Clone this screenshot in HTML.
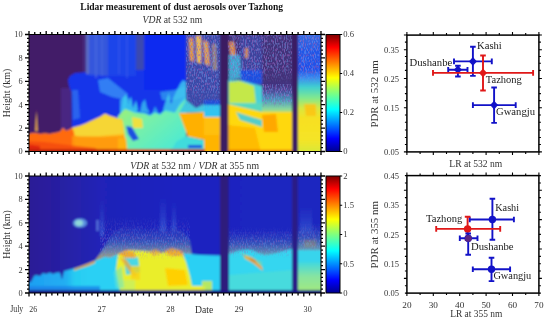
<!DOCTYPE html><html><head><meta charset="utf-8"><style>html,body{margin:0;padding:0;background:#fff;width:550px;height:322px;overflow:hidden}svg{display:block}</style></head><body>
<svg width="550" height="322" viewBox="0 0 550 322">
<defs>
<linearGradient id="jet" x1="0" y1="1" x2="0" y2="0"><stop offset="0" stop-color="#00008f"/><stop offset="0.11" stop-color="#0000ff"/><stop offset="0.36" stop-color="#00ffff"/><stop offset="0.5" stop-color="#7fff7f"/><stop offset="0.63" stop-color="#ffff00"/><stop offset="0.89" stop-color="#ff0000"/><stop offset="1" stop-color="#7f0000"/></linearGradient>
<filter id="bl" x="-5%" y="-5%" width="110%" height="110%"><feGaussianBlur stdDeviation="1.2"/></filter>
<filter id="nzl" x="0" y="0" width="100%" height="100%"><feTurbulence type="fractalNoise" baseFrequency="1.1 0.35" numOctaves="1" seed="4"/><feColorMatrix type="matrix" values="0 0 0 0 0.2  0 0 0 0 0.4  0 0 0 0 0.95  6 0 0 0 -2.9"/></filter>
<filter id="nzd" x="0" y="0" width="100%" height="100%"><feTurbulence type="fractalNoise" baseFrequency="1.1 0.35" numOctaves="1" seed="11"/><feColorMatrix type="matrix" values="0 0 0 0 0.3  0 0 0 0 0.1  0 0 0 0 0.45  -6 0 0 0 2.9"/></filter>
<linearGradient id="fade1" x1="0" y1="0" x2="0" y2="1"><stop offset="0" stop-color="#fff"/><stop offset="0.7" stop-color="#fff"/><stop offset="1" stop-color="#000"/></linearGradient>
<linearGradient id="fade2" x1="0" y1="0" x2="0" y2="1"><stop offset="0" stop-color="#000"/><stop offset="0.55" stop-color="#aaa"/><stop offset="0.8" stop-color="#888"/><stop offset="1" stop-color="#000"/></linearGradient>
<mask id="m1" maskUnits="userSpaceOnUse" x="0" y="0" width="550" height="322"><rect x="186" y="34" width="34" height="76" fill="url(#fade1)"/><rect x="228" y="34" width="64" height="50" fill="url(#fade1)"/><rect x="262" y="84" width="30" height="24" fill="url(#fade1)"/><rect x="298" y="34" width="23" height="50" fill="url(#fade1)"/><rect x="100" y="216" width="90" height="44" fill="url(#fade2)"/><rect x="229" y="226" width="63" height="32" fill="url(#fade2)"/><rect x="298" y="222" width="23" height="30" fill="url(#fade2)"/></mask>
<clipPath id="ct"><rect x="29" y="34.5" width="292" height="117.0"/></clipPath>
<clipPath id="cb"><rect x="29" y="176" width="292" height="117"/></clipPath>
</defs>
<g clip-path="url(#ct)"><g filter="url(#bl)"><defs><linearGradient id="lg1" x1="0" y1="0" x2="1" y2="1"><stop offset="0" stop-color="#a8f068"/><stop offset="0.4" stop-color="#78f0a8"/><stop offset="1" stop-color="#40e8e0"/></linearGradient></defs>
<rect x="25" y="30" width="300" height="126" fill="#421b68"/>
<rect x="83" y="30" width="4" height="44" fill="#4a3a98" opacity="0.5"/>
<rect x="61" y="88" width="10" height="42" fill="#4a2a88" opacity="0.8"/>
<path d="M86,30 L186,30 L186,156 L72,156 L71.5,92 L69,86 L68,80 L70,76 L75,73 L82,72.5 L86,72 Z" fill="#1234ea"/>
<path d="M87,30 L136,30 L136,76 L87,76 Z" fill="#1e44ea"/>
<path d="M86,30 L108,30 L108,76 L86,74 Z" fill="#3456dc"/>
<rect x="86" y="30" width="3" height="44" fill="#5a6ac4"/>
<rect x="95" y="30" width="2" height="48" fill="#4a6ae0" opacity="0.7"/>
<rect x="101" y="30" width="2" height="46" fill="#4a6ae0" opacity="0.6"/>
<rect x="118" y="30" width="2" height="44" fill="#3a5ae8" opacity="0.6"/>
<rect x="126" y="30" width="2" height="48" fill="#3a5ae8" opacity="0.6"/>
<rect x="136" y="30" width="8" height="40" fill="#3b48b0"/>
<path d="M144,30 L186,30 L186,90 L144,90 Z" fill="#0c2af0"/>
<path d="M98,80 L108,78 L118,86 L128,94 L126,100 L112,97 L100,92 Z" fill="#3a8cf6" opacity="0.85"/>
<path d="M72,90 L78,90 L80,118 L73,120 Z" fill="#3378f0" opacity="0.7"/>
<path d="M160,92 L175,90 L186,86 L186,96 L175,100 L162,100 Z" fill="#36a0f0" opacity="0.75"/>
<path d="M186,30 L220,30 L220,104 L204,104 L196,108 L186,100 Z" fill="#3a48a8"/>
<rect x="228" y="30" width="64" height="66" fill="#42307a"/>
<path d="M240,36 L262,36 L262,85 L240,85 Z" fill="#3c4aa8" opacity="0.75"/>
<defs><linearGradient id="r2" x1="0" y1="80" x2="0" y2="116" gradientUnits="userSpaceOnUse"><stop offset="0" stop-color="#44307c" stop-opacity="0"/><stop offset="0.3" stop-color="#4a4a98"/><stop offset="0.55" stop-color="#4a98b8"/><stop offset="0.8" stop-color="#88d8a0"/><stop offset="1" stop-color="#e8e030"/></linearGradient></defs>
<rect x="262" y="80" width="30" height="36" fill="url(#r2)"/>
<path d="M189,38 L193,38 L194,62 L190,60 Z" fill="#f0a030"/>
<path d="M196,36 L201,36 L201,64 L197,62 Z" fill="#f8c040"/>
<path d="M203,40 L208,42 L210,66 L205,64 Z" fill="#e8a048"/>
<path d="M212,44 L216,44 L217,70 L213,70 Z" fill="#b89a70" opacity="0.8"/>
<path d="M229,42 L234,42 L236,58 L231,60 Z" fill="#e89040"/>
<path d="M229,55 L240,55 L241,78 L229,80 Z" fill="#40a8d0"/>
<path d="M245,48 L248,48 L248,58 L245,58 Z" fill="#d89050"/>
<path d="M240,70 L262,70 L262,84 L242,84 Z" fill="#1e50e0"/>
<path d="M186,96 L180,103 L175,111.8 L170,110.7 L165,109.6 L160,114 L155,111.8 L150,115 L145,112.9 L135,111.8 L125,107.5 L120,114 L120,118 L125,111 L135,115 L145,116 L150,118 L155,115 L160,117 L165,113 L170,114 L175,115 L180,107 L186,101 Z" fill="#38d8e0"/>
<path d="M120,100 L126,95 L130,100 L125,108 L120,114 Z" fill="#38b0f0" opacity="0.8"/>
<rect x="204" y="104" width="16" height="13" fill="#30c4f0"/>
<path d="M121,112 L123,98 L126,94 L128,104 L131,96 L133,108 L136,100 L138,110 L135,114 L125,112 Z" fill="#38c8f0" opacity="0.9"/>
<path d="M140,112 L142,103 L145,99 L147,108 L150,113 Z" fill="#38c0f0" opacity="0.8"/>
<path d="M163,110 L166,100 L169,93 L171,104 L174,96 L177,90 L180,84 L183,80 L186,82 L186,100 L176,112 Z" fill="#40c8ee" opacity="0.85"/>
<path d="M152,114 L155,106 L158,112 Z" fill="#38c0f0" opacity="0.7"/>
<rect x="204" y="100" width="16" height="5" fill="#2050d8"/>
<path d="M228,80 L240,80 L262,86 L262,104 L228,104 Z" fill="#48d0d8"/>
<path d="M229,82 L240,81 L254,86 L256,104 L229,104 Z" fill="#c4e848"/>
<path d="M228,103 L262,103 L262,112 L228,110 Z" fill="#58d8c0"/>
<path d="M118,116 L125,109 L135,113 L145,114 L150,116 L155,113 L160,115 L165,111 L170,112 L175,113 L180,105 L186,99 L186,156 L118,156 Z" fill="url(#lg1)"/>
<path d="M25,136 L31,133.5 L35,133 L40,134 L45,133.5 L50,134 L55,133 L60,132 L63,128 L66,131 L69,130 L72,128 L75,127 L80,125.8 L86,123.5 L90,121.5 L95,119.3 L100,117 L105,113.8 L110,116 L115,117.6 L120,119.3 L122,119 L124,130 L128,156 L25,156 Z" fill="#ffb818"/>
<path d="M72,128 L75,127 L80,125.8 L86,123.5 L90,121.5 L95,119.3 L100,117 L105,113.8 L110,116 L115,117.6 L120,119.3 L123,122 L124,134 L100,136 L80,137 L72,134 Z" fill="#f6d634"/>
<path d="M25,136 L31,133.5 L35,133 L40,134 L45,133.5 L50,134 L55,133 L60,132 L63,128 L66,131 L69,130 L72,128 L74,132 L76,156 L25,156 Z" fill="#ff6a0c"/>
<path d="M72,136 L100,137 L124,136 L128,156 L72,156 Z" fill="#ff9810" opacity="0.9"/>
<path d="M25,141 L45,142 L60,144 L76,146 L95,148 L110,156 L25,156 Z" fill="#f44a0c" opacity="0.85"/>
<path d="M25,144 L40,146 L40,156 L25,156 Z" fill="#e02810"/>
<path d="M35.3,131 L36.3,110 L37.6,131 Z" fill="#f0b040"/>
<path d="M126,126 L132,127 L139,139 L133,141 L128,134 Z" fill="#1e50e0"/>
<path d="M132,117 L142,119 L143,128 L133,128 Z" fill="#eee040"/>
<path d="M118,138 L126,138 L128,156 L118,156 Z" fill="#ffb010"/>
<path d="M179,113 L204,112 L204,140 L188,137 Z" fill="#ffb000"/>
<path d="M186,100 L196,108 L204,104 L204,112 L179,113 Z" fill="#40c8e0"/>
<path d="M186,136 L204,140 L204,150 L172,150 L176,142 Z" fill="#40dcdc"/>
<rect x="188" y="145" width="14" height="3" fill="#2048e0"/>
<rect x="204" y="117" width="16" height="39" fill="#ffc010"/>
<rect x="204" y="135" width="16" height="21" fill="#ffb000" opacity="0.8"/>
<path d="M228,104 L262,112 L292,112 L292,156 L228,156 Z" fill="#ffd810"/>
<path d="M236,112 L262,120 L262,127 L240,120 Z" fill="#40cce0" opacity="0.9"/>
<path d="M262,115 L276,114 L278,132 L264,132 Z" fill="#ffa800"/>
<path d="M228,125 L255,128 L262,156 L228,156 Z" fill="#ffbc00"/>
<defs><linearGradient id="rc" x1="0" y1="34" x2="0" y2="152" gradientUnits="userSpaceOnUse"><stop offset="0" stop-color="#3a6ce0"/><stop offset="0.14" stop-color="#2458e6"/><stop offset="0.3" stop-color="#2050e8"/><stop offset="0.37" stop-color="#3a8cf0"/><stop offset="0.45" stop-color="#40d0d0"/><stop offset="0.54" stop-color="#80e890"/><stop offset="0.63" stop-color="#d8e840"/><stop offset="0.72" stop-color="#f8e020"/><stop offset="0.9" stop-color="#f4e428"/><stop offset="1" stop-color="#d8e838"/></linearGradient></defs>
<rect x="298" y="30" width="27" height="126" fill="url(#rc)"/>
<path d="M304,104 L316,104 L316,116 L306,116 Z" fill="#ffc010" opacity="0.8"/>
<rect x="220" y="30" width="8.300000000000011" height="126" fill="#3a1a62"/>
<rect x="292" y="30" width="5.800000000000011" height="126" fill="#3a1a62"/>
<rect x="25" y="149.3" width="180" height="6.699999999999989" fill="#b82010"/>
<rect x="110" y="149.6" width="60" height="6.400000000000006" fill="#d04010"/>
<rect x="228" y="149.8" width="64" height="6.199999999999989" fill="#e07010" opacity="0.8"/></g></g>
<g clip-path="url(#cb)"><g filter="url(#bl)"><defs><linearGradient id="tz" x1="0" y1="0" x2="0" y2="1"><stop offset="0" stop-color="#2a40c0" stop-opacity="0"/><stop offset="0.5" stop-color="#3a58b8"/><stop offset="0.78" stop-color="#7a90a0"/><stop offset="1" stop-color="#d89838"/></linearGradient><linearGradient id="tz2" x1="0" y1="0" x2="0" y2="1"><stop offset="0" stop-color="#2a40c0" stop-opacity="0"/><stop offset="0.55" stop-color="#3a58b8"/><stop offset="1" stop-color="#70a8b0"/></linearGradient></defs>
<defs><linearGradient id="bg2" x1="29" y1="0" x2="321" y2="0" gradientUnits="userSpaceOnUse"><stop offset="0" stop-color="#2a1e96"/><stop offset="0.12" stop-color="#2820a4"/><stop offset="0.25" stop-color="#2024b8"/><stop offset="0.5" stop-color="#1c22c0"/><stop offset="1" stop-color="#1e28c0"/></linearGradient></defs>
<rect x="25" y="171" width="300" height="126" fill="url(#bg2)"/>
<ellipse cx="80" cy="223" rx="7" ry="4.6" fill="#5a90e0"/>
<ellipse cx="79" cy="223" rx="4" ry="3" fill="#90d8d8"/>
<rect x="96.5" y="220" width="2.0" height="11" fill="#6a90e8" opacity="0.8"/>
<defs><linearGradient id="vs" x1="0" y1="0" x2="0" y2="1"><stop offset="0" stop-color="#3050d0" stop-opacity="0"/><stop offset="1" stop-color="#3a60d8" stop-opacity="0.7"/></linearGradient></defs>
<path d="M100,200 L104,200 L104,236 L100,236 Z" fill="url(#vs)"/>
<path d="M160,196 L166,196 L166,232 L160,232 Z" fill="url(#vs)"/>
<path d="M172,200 L176,200 L176,232 L172,232 Z" fill="url(#vs)"/>
<path d="M300,206 L312,206 L312,234 L300,234 Z" fill="url(#vs)"/>
<path d="M94,262 L104,248 L112,234 L122,226 L135,224 L145,230 L155,228 L170,226 L182,230 L190,240 L192,256 L100,262 Z" fill="url(#tz)"/>
<path d="M25,283 L31,282 L34,276 L36,275 L40,276 L43,273 L46,274 L50,272.5 L53,274 L57,272.4 L60,272.4 L62,279.4 L64,271 L65,270.7 L70,269.6 L72,269 L80,266.5 L88,263.6 L90,262.5 L100,258.7 L105,256.5 L110,257.6 L115,255.4 L120,253.3 L128,251 L144,252 L160,254 L175,252 L182,253 L200,255 L220,255.4 L220,297 L25,297 Z" fill="url(#cyl)"/>
<defs><linearGradient id="cyl" x1="29" y1="0" x2="90" y2="0" gradientUnits="userSpaceOnUse"><stop offset="0" stop-color="#1ea0f2"/><stop offset="0.6" stop-color="#22aef2"/><stop offset="0.75" stop-color="#26ccf2"/><stop offset="1" stop-color="#2cd0f4"/></linearGradient></defs>
<path d="M25,286 L100,286 L100,291 L25,291 Z" fill="#1a7ce8" opacity="0.7"/>
<path d="M74,268.8 L80,266.5 L88,263.6 L95,260.6 L95,263 L88,266 L80,268.5 L74,270.8 Z" fill="#f0a030" opacity="0.9"/>
<path d="M118,254 L128,250 L144,251 L160,253 L175,251 L182,252 L186,262 L190,276 L192,286 L205,286 L205,291 L120,291 L116,270 Z" fill="#eaee2a"/>
<path d="M124,258 L138,257 L140,272 L126,275 Z" fill="#48d8e4"/>
<path d="M118,254 L126,250 L134,252 L136,258 L126,258 Z" fill="#f0a030" opacity="0.85"/>
<path d="M120,258 L126,259 L138,276 L133,277 Z" fill="#f0a838" opacity="0.8"/>
<path d="M148,252 L156,249 L162,253 L154,256 Z" fill="#f0b038" opacity="0.7"/>
<path d="M164,251 L172,248 L182,251 L184,256 L170,256 Z" fill="#f0a030" opacity="0.8"/>
<path d="M131,266 L140,266 L140,280 L131,280 Z" fill="#f8d418" opacity="0.8"/>
<path d="M165,268 L185,270 L188,285 L168,286 Z" fill="#ffd000"/>
<path d="M120,280 L135,280 L135,291 L120,291 Z" fill="#c8f060" opacity="0.8"/>
<path d="M114,272 L122,266 L124,288 L116,288 Z" fill="#70e8c0" opacity="0.6"/>
<path d="M202,281 L212,281 L212,291 L202,291 Z" fill="#d8ec40" opacity="0.8"/>
<path d="M229,230 L292,230 L292,251 L280,254 L265,257 L250,252 L229,256 Z" fill="url(#tz2)"/>
<path d="M229,254 L235,252 L240,250.5 L250,249.5 L258,253 L265,255 L272,254 L280,252 L292,249 L292,297 L229,297 Z" fill="#34d6f0"/>
<path d="M229,275 L292,270 L292,291 L229,291 Z" fill="#4cdcd8" opacity="0.8"/>
<path d="M244,255 L252,257.5 L262,267 L263,271 L253,263 L245,258.5 Z" fill="#f0a030"/>
<path d="M249,257.5 L255,259.5 L257,263 L251,261 Z" fill="#e06a20"/>
<path d="M240,252 L262,262 L262,266 L245,259 Z" fill="#c8d060" opacity="0.35"/>
<path d="M298,224 L325,224 L325,252 L298,252 Z" fill="url(#tz2)"/>
<path d="M304,240 L316,240 L316,247 L304,247 Z" fill="#c8a040" opacity="0.3"/>
<rect x="298" y="250" width="27" height="18" fill="#38d4ec"/>
<defs><linearGradient id="fr" x1="0" y1="0" x2="0" y2="1"><stop offset="0" stop-color="#40d8e0"/><stop offset="0.5" stop-color="#88e4a0"/><stop offset="1" stop-color="#a0e880"/></linearGradient></defs>
<rect x="298" y="262" width="27" height="29" fill="url(#fr)"/>
<rect x="220" y="171" width="8.699999999999989" height="126" fill="#2e1c7c"/>
<rect x="292" y="171" width="5.800000000000011" height="126" fill="#2a1a86"/>
<rect x="25" y="290.2" width="300" height="6.800000000000011" fill="#161680"/></g></g>
<g mask="url(#m1)"><rect x="29" y="34" width="292" height="260" filter="url(#nzl)" opacity="0.4"/><rect x="29" y="34" width="292" height="260" filter="url(#nzd)" opacity="0.5"/></g>
<rect x="29" y="34.5" width="292" height="117.0" fill="none" stroke="#000" stroke-width="1"/>
<path d="M25,151.50H29M321,151.50H325M27,147.60H29M321,147.60H323M27,143.70H29M321,143.70H323M27,139.80H29M321,139.80H323M27,135.90H29M321,135.90H323M27,132.00H29M321,132.00H323M25,128.10H29M321,128.10H325M27,124.20H29M321,124.20H323M27,120.30H29M321,120.30H323M27,116.40H29M321,116.40H323M27,112.50H29M321,112.50H323M27,108.60H29M321,108.60H323M25,104.70H29M321,104.70H325M27,100.80H29M321,100.80H323M27,96.90H29M321,96.90H323M27,93.00H29M321,93.00H323M27,89.10H29M321,89.10H323M27,85.20H29M321,85.20H323M25,81.30H29M321,81.30H325M27,77.40H29M321,77.40H323M27,73.50H29M321,73.50H323M27,69.60H29M321,69.60H323M27,65.70H29M321,65.70H323M27,61.80H29M321,61.80H323M25,57.90H29M321,57.90H325M27,54.00H29M321,54.00H323M27,50.10H29M321,50.10H323M27,46.20H29M321,46.20H323M27,42.30H29M321,42.30H323M27,38.40H29M321,38.40H323M25,34.50H29M321,34.50H325M29.00,30.9V34.5M29.00,151.5V155.1M34.73,31.9V34.5M34.73,151.5V154.1M40.45,31.9V34.5M40.45,151.5V154.1M46.18,30.9V34.5M46.18,151.5V155.1M51.90,31.9V34.5M51.90,151.5V154.1M57.63,31.9V34.5M57.63,151.5V154.1M63.35,30.9V34.5M63.35,151.5V155.1M69.08,31.9V34.5M69.08,151.5V154.1M74.80,31.9V34.5M74.80,151.5V154.1M80.52,30.9V34.5M80.52,151.5V155.1M86.25,31.9V34.5M86.25,151.5V154.1M91.97,31.9V34.5M91.97,151.5V154.1M97.70,30.9V34.5M97.70,151.5V155.1M103.42,31.9V34.5M103.42,151.5V154.1M109.15,31.9V34.5M109.15,151.5V154.1M114.87,30.9V34.5M114.87,151.5V155.1M120.60,31.9V34.5M120.60,151.5V154.1M126.32,31.9V34.5M126.32,151.5V154.1M132.05,30.9V34.5M132.05,151.5V155.1M137.77,31.9V34.5M137.77,151.5V154.1M143.50,31.9V34.5M143.50,151.5V154.1M149.22,30.9V34.5M149.22,151.5V155.1M154.95,31.9V34.5M154.95,151.5V154.1M160.67,31.9V34.5M160.67,151.5V154.1M166.40,30.9V34.5M166.40,151.5V155.1M172.12,31.9V34.5M172.12,151.5V154.1M177.85,31.9V34.5M177.85,151.5V154.1M183.57,30.9V34.5M183.57,151.5V155.1M189.30,31.9V34.5M189.30,151.5V154.1M195.02,31.9V34.5M195.02,151.5V154.1M200.75,30.9V34.5M200.75,151.5V155.1M206.47,31.9V34.5M206.47,151.5V154.1M212.20,31.9V34.5M212.20,151.5V154.1M217.92,30.9V34.5M217.92,151.5V155.1M223.65,31.9V34.5M223.65,151.5V154.1M229.37,31.9V34.5M229.37,151.5V154.1M235.10,30.9V34.5M235.10,151.5V155.1M240.82,31.9V34.5M240.82,151.5V154.1M246.55,31.9V34.5M246.55,151.5V154.1M252.27,30.9V34.5M252.27,151.5V155.1M258.00,31.9V34.5M258.00,151.5V154.1M263.72,31.9V34.5M263.72,151.5V154.1M269.45,30.9V34.5M269.45,151.5V155.1M275.17,31.9V34.5M275.17,151.5V154.1M280.90,31.9V34.5M280.90,151.5V154.1M286.62,30.9V34.5M286.62,151.5V155.1M292.35,31.9V34.5M292.35,151.5V154.1M298.07,31.9V34.5M298.07,151.5V154.1M303.80,30.9V34.5M303.80,151.5V155.1M309.53,31.9V34.5M309.53,151.5V154.1M315.25,31.9V34.5M315.25,151.5V154.1M320.98,30.9V34.5M320.98,151.5V155.1" stroke="#000" stroke-width="1.3" fill="none"/>
<rect x="326" y="34.5" width="14" height="117.0" fill="url(#jet)" stroke="#000" stroke-width="1"/>
<rect x="29" y="176" width="292" height="117" fill="none" stroke="#000" stroke-width="1"/>
<path d="M25,293.00H29M321,293.00H325M27,289.10H29M321,289.10H323M27,285.20H29M321,285.20H323M27,281.30H29M321,281.30H323M27,277.40H29M321,277.40H323M27,273.50H29M321,273.50H323M25,269.60H29M321,269.60H325M27,265.70H29M321,265.70H323M27,261.80H29M321,261.80H323M27,257.90H29M321,257.90H323M27,254.00H29M321,254.00H323M27,250.10H29M321,250.10H323M25,246.20H29M321,246.20H325M27,242.30H29M321,242.30H323M27,238.40H29M321,238.40H323M27,234.50H29M321,234.50H323M27,230.60H29M321,230.60H323M27,226.70H29M321,226.70H323M25,222.80H29M321,222.80H325M27,218.90H29M321,218.90H323M27,215.00H29M321,215.00H323M27,211.10H29M321,211.10H323M27,207.20H29M321,207.20H323M27,203.30H29M321,203.30H323M25,199.40H29M321,199.40H325M27,195.50H29M321,195.50H323M27,191.60H29M321,191.60H323M27,187.70H29M321,187.70H323M27,183.80H29M321,183.80H323M27,179.90H29M321,179.90H323M25,176.00H29M321,176.00H325M29.00,172.4V176M29.00,293V296.6M34.73,173.4V176M34.73,293V295.6M40.45,173.4V176M40.45,293V295.6M46.18,172.4V176M46.18,293V296.6M51.90,173.4V176M51.90,293V295.6M57.63,173.4V176M57.63,293V295.6M63.35,172.4V176M63.35,293V296.6M69.08,173.4V176M69.08,293V295.6M74.80,173.4V176M74.80,293V295.6M80.52,172.4V176M80.52,293V296.6M86.25,173.4V176M86.25,293V295.6M91.97,173.4V176M91.97,293V295.6M97.70,172.4V176M97.70,293V296.6M103.42,173.4V176M103.42,293V295.6M109.15,173.4V176M109.15,293V295.6M114.87,172.4V176M114.87,293V296.6M120.60,173.4V176M120.60,293V295.6M126.32,173.4V176M126.32,293V295.6M132.05,172.4V176M132.05,293V296.6M137.77,173.4V176M137.77,293V295.6M143.50,173.4V176M143.50,293V295.6M149.22,172.4V176M149.22,293V296.6M154.95,173.4V176M154.95,293V295.6M160.67,173.4V176M160.67,293V295.6M166.40,172.4V176M166.40,293V296.6M172.12,173.4V176M172.12,293V295.6M177.85,173.4V176M177.85,293V295.6M183.57,172.4V176M183.57,293V296.6M189.30,173.4V176M189.30,293V295.6M195.02,173.4V176M195.02,293V295.6M200.75,172.4V176M200.75,293V296.6M206.47,173.4V176M206.47,293V295.6M212.20,173.4V176M212.20,293V295.6M217.92,172.4V176M217.92,293V296.6M223.65,173.4V176M223.65,293V295.6M229.37,173.4V176M229.37,293V295.6M235.10,172.4V176M235.10,293V296.6M240.82,173.4V176M240.82,293V295.6M246.55,173.4V176M246.55,293V295.6M252.27,172.4V176M252.27,293V296.6M258.00,173.4V176M258.00,293V295.6M263.72,173.4V176M263.72,293V295.6M269.45,172.4V176M269.45,293V296.6M275.17,173.4V176M275.17,293V295.6M280.90,173.4V176M280.90,293V295.6M286.62,172.4V176M286.62,293V296.6M292.35,173.4V176M292.35,293V295.6M298.07,173.4V176M298.07,293V295.6M303.80,172.4V176M303.80,293V296.6M309.53,173.4V176M309.53,293V295.6M315.25,173.4V176M315.25,293V295.6M320.98,172.4V176M320.98,293V296.6" stroke="#000" stroke-width="1.3" fill="none"/>
<rect x="326" y="176" width="14" height="117" fill="url(#jet)" stroke="#000" stroke-width="1"/>
<path d="M340,151.50h2.2" stroke="#000"/>
<text x="343.3" y="154.40" font-size="8.6" fill="#3a3a3a" font-family="Liberation Serif, serif">0</text>
<path d="M340,112.50h2.2" stroke="#000"/>
<text x="343.3" y="115.40" font-size="8.6" fill="#3a3a3a" font-family="Liberation Serif, serif">0.2</text>
<path d="M340,73.50h2.2" stroke="#000"/>
<text x="343.3" y="76.40" font-size="8.6" fill="#3a3a3a" font-family="Liberation Serif, serif">0.4</text>
<path d="M340,34.50h2.2" stroke="#000"/>
<text x="343.3" y="37.40" font-size="8.6" fill="#3a3a3a" font-family="Liberation Serif, serif">0.6</text>
<path d="M340,293.00h2.2" stroke="#000"/>
<text x="343.3" y="295.90" font-size="8.6" fill="#3a3a3a" font-family="Liberation Serif, serif">0</text>
<path d="M340,263.75h2.2" stroke="#000"/>
<text x="343.3" y="266.65" font-size="8.6" fill="#3a3a3a" font-family="Liberation Serif, serif">0.5</text>
<path d="M340,234.50h2.2" stroke="#000"/>
<text x="343.3" y="237.40" font-size="8.6" fill="#3a3a3a" font-family="Liberation Serif, serif">1</text>
<path d="M340,205.25h2.2" stroke="#000"/>
<text x="343.3" y="208.15" font-size="8.6" fill="#3a3a3a" font-family="Liberation Serif, serif">1.5</text>
<path d="M340,176.00h2.2" stroke="#000"/>
<text x="343.3" y="178.90" font-size="8.6" fill="#3a3a3a" font-family="Liberation Serif, serif">2</text>
<text x="22.6" y="154.40" font-size="8.3" text-anchor="end" fill="#3a3a3a" font-family="Liberation Serif, serif">0</text>
<text x="22.6" y="131.00" font-size="8.3" text-anchor="end" fill="#3a3a3a" font-family="Liberation Serif, serif">2</text>
<text x="22.6" y="107.60" font-size="8.3" text-anchor="end" fill="#3a3a3a" font-family="Liberation Serif, serif">4</text>
<text x="22.6" y="84.20" font-size="8.3" text-anchor="end" fill="#3a3a3a" font-family="Liberation Serif, serif">6</text>
<text x="22.6" y="60.80" font-size="8.3" text-anchor="end" fill="#3a3a3a" font-family="Liberation Serif, serif">8</text>
<text x="22.6" y="37.40" font-size="8.3" text-anchor="end" fill="#3a3a3a" font-family="Liberation Serif, serif">10</text>
<g transform="translate(9.8,117.3) rotate(-90)"><text x="0" y="0" font-size="9.8" fill="#333" textLength="48.5" lengthAdjust="spacingAndGlyphs" font-family="Liberation Serif, serif" >Height (km)</text></g>
<text x="22.6" y="295.90" font-size="8.3" text-anchor="end" fill="#3a3a3a" font-family="Liberation Serif, serif">0</text>
<text x="22.6" y="272.50" font-size="8.3" text-anchor="end" fill="#3a3a3a" font-family="Liberation Serif, serif">2</text>
<text x="22.6" y="249.10" font-size="8.3" text-anchor="end" fill="#3a3a3a" font-family="Liberation Serif, serif">4</text>
<text x="22.6" y="225.70" font-size="8.3" text-anchor="end" fill="#3a3a3a" font-family="Liberation Serif, serif">6</text>
<text x="22.6" y="202.30" font-size="8.3" text-anchor="end" fill="#3a3a3a" font-family="Liberation Serif, serif">8</text>
<text x="22.6" y="178.90" font-size="8.3" text-anchor="end" fill="#3a3a3a" font-family="Liberation Serif, serif">10</text>
<g transform="translate(9.8,258.8) rotate(-90)"><text x="0" y="0" font-size="9.8" fill="#333" textLength="48.5" lengthAdjust="spacingAndGlyphs" font-family="Liberation Serif, serif" >Height (km)</text></g>
<text x="80.3" y="9.7" font-size="9.6" fill="#111" textLength="202.7" lengthAdjust="spacingAndGlyphs" font-family="Liberation Serif, serif" font-weight="bold">Lidar measurement of dust aerosols over Tazhong</text>
<text x="142.6" y="22.7" font-size="9.5" fill="#333" textLength="59.7" lengthAdjust="spacingAndGlyphs" font-family="Liberation Serif, serif" ><tspan font-style="italic">VDR</tspan> at 532 nm</text>
<text x="130.3" y="169" font-size="9.5" fill="#333" textLength="128.7" lengthAdjust="spacingAndGlyphs" font-family="Liberation Serif, serif" ><tspan font-style="italic">VDR</tspan> at 532 nm  / <tspan font-style="italic">VDR</tspan> at 355 nm</text>
<text x="29.3" y="312.3" font-size="9.2" fill="#333" textLength="7.9" lengthAdjust="spacingAndGlyphs" font-family="Liberation Serif, serif" >26</text>
<text x="97.6" y="312.3" font-size="9.2" fill="#333" textLength="8.3" lengthAdjust="spacingAndGlyphs" font-family="Liberation Serif, serif" >27</text>
<text x="166.3" y="312.3" font-size="9.2" fill="#333" textLength="8.3" lengthAdjust="spacingAndGlyphs" font-family="Liberation Serif, serif" >28</text>
<text x="234.6" y="312.3" font-size="9.2" fill="#333" textLength="8.8" lengthAdjust="spacingAndGlyphs" font-family="Liberation Serif, serif" >29</text>
<text x="303.6" y="312.3" font-size="9.2" fill="#333" textLength="8.1" lengthAdjust="spacingAndGlyphs" font-family="Liberation Serif, serif" >30</text>
<text x="10.2" y="312" font-size="9.4" fill="#333" textLength="13.1" lengthAdjust="spacingAndGlyphs" font-family="Liberation Serif, serif" >July</text>
<text x="195" y="312.6" font-size="9.6" fill="#333" textLength="18.3" lengthAdjust="spacingAndGlyphs" font-family="Liberation Serif, serif" >Date</text>
<path d="M406.90,151.9v3M406.90,35.1v-3M420.10,151.9v2M420.10,35.1v-2M433.30,151.9v3M433.30,35.1v-3M446.50,151.9v2M446.50,35.1v-2M459.70,151.9v3M459.70,35.1v-3M472.90,151.9v2M472.90,35.1v-2M486.10,151.9v3M486.10,35.1v-3M499.30,151.9v2M499.30,35.1v-2M512.50,151.9v3M512.50,35.1v-3M525.70,151.9v2M525.70,35.1v-2M538.90,151.9v3M538.90,35.1v-3M403.9,35.00H406.9M538.9,35.00h3M404.9,42.10H406.9M538.9,42.10h2M403.9,49.80H406.9M538.9,49.80h3M404.9,56.50H406.9M538.9,56.50h2M404.9,63.30H406.9M538.9,63.30h2M404.9,70.40H406.9M538.9,70.40h2M403.9,78.50H406.9M538.9,78.50h3M404.9,87.00H406.9M538.9,87.00h2M404.9,93.60H406.9M538.9,93.60h2M404.9,100.60H406.9M538.9,100.60h2M403.9,107.80H406.9M538.9,107.80h3M404.9,115.00H406.9M538.9,115.00h2M404.9,122.30H406.9M538.9,122.30h2M404.9,130.00H406.9M538.9,130.00h2M404.9,137.50H406.9M538.9,137.50h2M404.9,144.50H406.9M538.9,144.50h2M403.9,151.90H406.9M538.9,151.90h3" stroke="#000" stroke-width="1.1" fill="none"/>
<rect x="406.9" y="35.1" width="132.0" height="116.80000000000001" fill="none" stroke="#000" stroke-width="1.5"/>
<g stroke="#1212c8" stroke-width="1.9" fill="none"><path d="M454,61.4H491.8M472.9,46.8V75.9M454,58.6v5.6M491.8,58.6v5.6M470.09999999999997,46.8h5.6M470.09999999999997,75.9h5.6"/></g>
<path d="M472.9,57.0L476.9,61.4L472.9,65.8L468.9,61.4Z" fill="#1212c8"/>
<g stroke="#1212c8" stroke-width="1.9" fill="none"><path d="M448.2,69.7H467.5M457.9,65.7V76.5M448.2,66.9v5.6M467.5,66.9v5.6M455.09999999999997,65.7h5.6M455.09999999999997,76.5h5.6"/></g>
<path d="M457.9,65.3L461.9,69.7L457.9,74.10000000000001L453.9,69.7Z" fill="#1212c8"/>
<g stroke="#e01818" stroke-width="1.9" fill="none"><path d="M433,72.9H533.1M483,55.5V90.5M433,70.10000000000001v5.6M533.1,70.10000000000001v5.6M480.2,55.5h5.6M480.2,90.5h5.6"/></g>
<path d="M483,68.5L487.0,72.9L483,77.30000000000001L479.0,72.9Z" fill="#e01818"/>
<g stroke="#1212c8" stroke-width="1.9" fill="none"><path d="M472.9,105.1H515.7M494.1,87.5V122.9M472.9,102.3v5.6M515.7,102.3v5.6M491.3,87.5h5.6M491.3,122.9h5.6"/></g>
<path d="M494.1,100.69999999999999L498.1,105.1L494.1,109.5L490.1,105.1Z" fill="#1212c8"/>
<text x="384.0" y="53.0" font-size="9.2" fill="#333" textLength="14.9" lengthAdjust="spacingAndGlyphs" font-family="Liberation Serif, serif" >0.35</text>
<text x="384.0" y="81.8" font-size="9.2" fill="#333" textLength="14.9" lengthAdjust="spacingAndGlyphs" font-family="Liberation Serif, serif" >0.25</text>
<text x="384.0" y="111.0" font-size="9.2" fill="#333" textLength="14.9" lengthAdjust="spacingAndGlyphs" font-family="Liberation Serif, serif" >0.15</text>
<text x="384.0" y="154.7" font-size="9.2" fill="#333" textLength="14.9" lengthAdjust="spacingAndGlyphs" font-family="Liberation Serif, serif" >0.05</text>
<text x="477.0" y="48.9" font-size="10.4" fill="#1a1a1a" textLength="24.8" lengthAdjust="spacingAndGlyphs" font-family="Liberation Serif, serif" >Kashi</text>
<text x="409.5" y="65.7" font-size="10.4" fill="#1a1a1a" textLength="42.8" lengthAdjust="spacingAndGlyphs" font-family="Liberation Serif, serif" >Dushanbe</text>
<text x="485.8" y="83.2" font-size="10.4" fill="#1a1a1a" textLength="36.0" lengthAdjust="spacingAndGlyphs" font-family="Liberation Serif, serif" >Tazhong</text>
<text x="496.0" y="114.7" font-size="10.4" fill="#1a1a1a" textLength="39.0" lengthAdjust="spacingAndGlyphs" font-family="Liberation Serif, serif" >Gwangju</text>
<text x="449.3" y="167" font-size="9.9" fill="#333" textLength="53.0" lengthAdjust="spacingAndGlyphs" font-family="Liberation Serif, serif" >LR at 532 nm</text>
<g transform="translate(377.6,127.6) rotate(-90)"><text x="0" y="0" font-size="10.3" fill="#333" textLength="67.4" lengthAdjust="spacingAndGlyphs" font-family="Liberation Serif, serif" >PDR at 532 nm</text></g>
<path d="M406.90,293.1v3M406.90,175.6v-3M420.10,293.1v2M420.10,175.6v-2M433.30,293.1v3M433.30,175.6v-3M446.50,293.1v2M446.50,175.6v-2M459.70,293.1v3M459.70,175.6v-3M472.90,293.1v2M472.90,175.6v-2M486.10,293.1v3M486.10,175.6v-3M499.30,293.1v2M499.30,175.6v-2M512.50,293.1v3M512.50,175.6v-3M525.70,293.1v2M525.70,175.6v-2M538.90,293.1v3M538.90,175.6v-3M404.9,175.60H406.9M538.9,175.60h2M404.9,182.94H406.9M538.9,182.94h2M403.9,190.29H406.9M538.9,190.29h3M404.9,197.63H406.9M538.9,197.63h2M404.9,204.97H406.9M538.9,204.97h2M404.9,212.32H406.9M538.9,212.32h2M403.9,219.66H406.9M538.9,219.66h3M404.9,227.01H406.9M538.9,227.01h2M404.9,234.35H406.9M538.9,234.35h2M404.9,241.69H406.9M538.9,241.69h2M403.9,249.04H406.9M538.9,249.04h3M404.9,256.38H406.9M538.9,256.38h2M404.9,263.73H406.9M538.9,263.73h2M404.9,271.07H406.9M538.9,271.07h2M403.9,278.41H406.9M538.9,278.41h3M404.9,285.76H406.9M538.9,285.76h2M404.9,293.10H406.9M538.9,293.10h2" stroke="#000" stroke-width="1.1" fill="none"/>
<rect x="406.9" y="175.6" width="132.0" height="117.50000000000003" fill="none" stroke="#000" stroke-width="1.5"/>
<g stroke="#1212c8" stroke-width="1.9" fill="none"><path d="M469.7,219.5H513.9M492.4,198.7V239.7M469.7,216.7v5.6M513.9,216.7v5.6M489.59999999999997,198.7h5.6M489.59999999999997,239.7h5.6"/></g>
<circle cx="492.4" cy="219.5" r="3.7" fill="#1212c8"/>
<g stroke="#e01818" stroke-width="1.9" fill="none"><path d="M436.2,228.9H500.2M467.6,216.7V240M436.2,226.1v5.6M500.2,226.1v5.6M464.8,216.7h5.6M464.8,240h5.6"/></g>
<circle cx="467.6" cy="228.9" r="3.7" fill="#e01818"/>
<g stroke="#1212c8" stroke-width="1.9" fill="none"><path d="M459.8,238.2H477.5M468.2,233.5V254.7M459.8,235.39999999999998v5.6M477.5,235.39999999999998v5.6M465.4,233.5h5.6M465.4,254.7h5.6"/></g>
<circle cx="468.2" cy="238.2" r="3.7" fill="#1212c8"/>
<g stroke="#1212c8" stroke-width="1.9" fill="none"><path d="M472.8,269.3H510.1M491.5,257.8V281.1M472.8,266.5v5.6M510.1,266.5v5.6M488.7,257.8h5.6M488.7,281.1h5.6"/></g>
<circle cx="491.5" cy="269.3" r="3.7" fill="#1212c8"/>
<text x="384.0" y="178.7" font-size="9.2" fill="#333" textLength="14.9" lengthAdjust="spacingAndGlyphs" font-family="Liberation Serif, serif" >0.45</text>
<text x="384.0" y="208.2" font-size="9.2" fill="#333" textLength="14.9" lengthAdjust="spacingAndGlyphs" font-family="Liberation Serif, serif" >0.35</text>
<text x="384.0" y="237.6" font-size="9.2" fill="#333" textLength="14.9" lengthAdjust="spacingAndGlyphs" font-family="Liberation Serif, serif" >0.25</text>
<text x="384.0" y="267.0" font-size="9.2" fill="#333" textLength="14.9" lengthAdjust="spacingAndGlyphs" font-family="Liberation Serif, serif" >0.15</text>
<text x="384.0" y="296.2" font-size="9.2" fill="#333" textLength="14.9" lengthAdjust="spacingAndGlyphs" font-family="Liberation Serif, serif" >0.05</text>
<circle cx="468.4" cy="238.4" r="3.4" fill="#5c2484"/>
<text x="495.2" y="210.8" font-size="10.4" fill="#1a1a1a" textLength="23.9" lengthAdjust="spacingAndGlyphs" font-family="Liberation Serif, serif" >Kashi</text>
<text x="426.0" y="222" font-size="10.4" fill="#1a1a1a" textLength="36.3" lengthAdjust="spacingAndGlyphs" font-family="Liberation Serif, serif" >Tazhong</text>
<text x="471.0" y="250" font-size="10.4" fill="#1a1a1a" textLength="42.6" lengthAdjust="spacingAndGlyphs" font-family="Liberation Serif, serif" >Dushanbe</text>
<text x="493.4" y="278.6" font-size="10.4" fill="#1a1a1a" textLength="37.9" lengthAdjust="spacingAndGlyphs" font-family="Liberation Serif, serif" >Gwangju</text>
<text x="450.2" y="317" font-size="9.9" fill="#333" textLength="52.1" lengthAdjust="spacingAndGlyphs" font-family="Liberation Serif, serif" >LR at 355 nm</text>
<g transform="translate(377.6,268.5) rotate(-90)"><text x="0" y="0" font-size="10.3" fill="#333" textLength="67.4" lengthAdjust="spacingAndGlyphs" font-family="Liberation Serif, serif" >PDR at 355 nm</text></g>
<text x="402.3" y="307.8" font-size="9.2" fill="#333" textLength="9.2" lengthAdjust="spacingAndGlyphs" font-family="Liberation Serif, serif" >20</text>
<text x="428.7" y="307.8" font-size="9.2" fill="#333" textLength="9.2" lengthAdjust="spacingAndGlyphs" font-family="Liberation Serif, serif" >30</text>
<text x="455.1" y="307.8" font-size="9.2" fill="#333" textLength="9.2" lengthAdjust="spacingAndGlyphs" font-family="Liberation Serif, serif" >40</text>
<text x="481.5" y="307.8" font-size="9.2" fill="#333" textLength="9.2" lengthAdjust="spacingAndGlyphs" font-family="Liberation Serif, serif" >50</text>
<text x="507.9" y="307.8" font-size="9.2" fill="#333" textLength="9.2" lengthAdjust="spacingAndGlyphs" font-family="Liberation Serif, serif" >60</text>
<text x="534.3" y="307.8" font-size="9.2" fill="#333" textLength="9.2" lengthAdjust="spacingAndGlyphs" font-family="Liberation Serif, serif" >70</text>
</svg></body></html>
